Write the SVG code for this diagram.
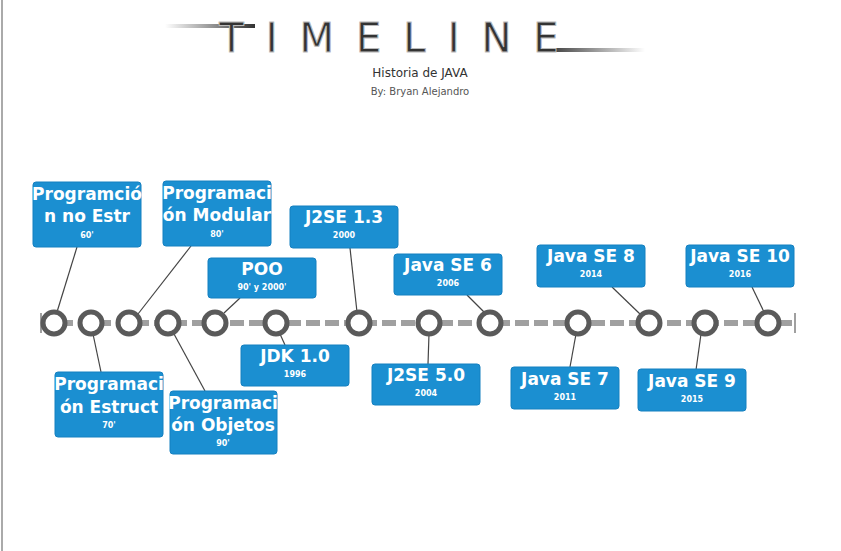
<svg xmlns="http://www.w3.org/2000/svg" width="841" height="551" viewBox="0 0 841 551">
<defs>
<linearGradient id="gl" x1="0" x2="1"><stop offset="0" stop-color="#333" stop-opacity="0"/><stop offset="1" stop-color="#333"/></linearGradient>
<linearGradient id="gr" x1="0" x2="1"><stop offset="0" stop-color="#333"/><stop offset="1" stop-color="#333" stop-opacity="0"/></linearGradient>
</defs>
<style>
.b{fill:#1b8fd1;stroke:#1580c0;stroke-width:1}
.t{font-family:"DejaVu Sans",sans-serif;font-weight:bold;fill:#fff;text-anchor:middle;font-size:17px}
.s{font-family:"DejaVu Sans",sans-serif;font-weight:bold;fill:#fff;text-anchor:middle;font-size:8px}
.c{fill:#fff;stroke:#5a5a5a;stroke-width:5}
.l{stroke:#444;stroke-width:1.2}
</style>
<rect width="841" height="551" fill="#fff"/>
<line x1="2" y1="0" x2="2" y2="551" stroke="#aaa" stroke-width="2"/>
<rect x="165" y="24" width="90" height="4" fill="url(#gl)"/>
<rect x="545" y="48" width="100" height="4" fill="url(#gr)"/>
<text x="400" y="52" font-family="DejaVu Sans,sans-serif" font-size="40" fill="#333" stroke="#bbb" stroke-width="1" text-anchor="middle" letter-spacing="22">TIMELINE</text>
<text x="420" y="77" font-family="DejaVu Sans,sans-serif" font-size="12" fill="#333" text-anchor="middle">Historia de JAVA</text>
<text x="420" y="95" font-family="DejaVu Sans,sans-serif" font-size="10" fill="#555" text-anchor="middle">By: Bryan Alejandro</text>
<g id="connectors">
<line x1="40" y1="323" x2="792" y2="323" stroke="#a0a0a0" stroke-width="6" stroke-dasharray="14 5"/>
<line x1="41" y1="313" x2="41" y2="333" stroke="#a0a0a0" stroke-width="2"/>
<line x1="795" y1="313" x2="795" y2="333" stroke="#a0a0a0" stroke-width="2"/>
<line class="l" x1="77" y1="247" x2="57" y2="312"/>
<line class="l" x1="93" y1="334" x2="101" y2="372"/>
<line class="l" x1="191" y1="246" x2="138" y2="314"/>
<line class="l" x1="174" y1="334" x2="205" y2="391"/>
<line class="l" x1="240" y1="298" x2="224" y2="313"/>
<line class="l" x1="280" y1="334" x2="285" y2="345"/>
<line class="l" x1="350" y1="248" x2="357" y2="312"/>
<line class="l" x1="429" y1="334" x2="428" y2="364"/>
<line class="l" x1="467" y1="295" x2="485" y2="313"/>
<line class="l" x1="576" y1="334" x2="570" y2="367"/>
<line class="l" x1="612" y1="287" x2="640" y2="314"/>
<line class="l" x1="701" y1="334" x2="696" y2="370"/>
<line class="l" x1="752" y1="287" x2="764" y2="312"/>
</g>
<g id="circles">
<circle class="c" cx="54" cy="323" r="11"/><circle class="c" cx="91" cy="323" r="11"/><circle class="c" cx="129" cy="323" r="11"/><circle class="c" cx="168" cy="323" r="11"/><circle class="c" cx="215" cy="323" r="11"/><circle class="c" cx="276" cy="323" r="11"/><circle class="c" cx="359" cy="323" r="11"/><circle class="c" cx="429" cy="323" r="11"/><circle class="c" cx="490" cy="323" r="11"/><circle class="c" cx="578" cy="323" r="11"/><circle class="c" cx="649" cy="323" r="11"/><circle class="c" cx="705" cy="323" r="11"/><circle class="c" cx="768" cy="323" r="11"/>
</g>
<g id="n1"><rect class="b" x="33" y="182" width="108" height="65" rx="3"/><text class="t" x="87" y="200">Programció</text><text class="t" x="87" y="222">n no Estr</text><text class="s" x="87" y="238">60'</text></g>
<g id="n2"><rect class="b" x="55" y="372" width="108" height="65" rx="3"/><text class="t" x="109" y="390">Programaci</text><text class="t" x="109" y="413">ón Estruct</text><text class="s" x="109" y="428">70'</text></g>
<g id="n3"><rect class="b" x="163" y="181" width="108" height="65" rx="3"/><text class="t" x="217" y="199">Programaci</text><text class="t" x="217" y="221">ón Modular</text><text class="s" x="217" y="237">80'</text></g>
<g id="n4"><rect class="b" x="170" y="391" width="107" height="63" rx="3"/><text class="t" x="223" y="409">Programaci</text><text class="t" x="223" y="431">ón Objetos</text><text class="s" x="223" y="446">90'</text></g>
<g id="n5"><rect class="b" x="208" y="258" width="108" height="40" rx="3"/><text class="t" x="262" y="275">POO</text><text class="s" x="262" y="290">90' y 2000'</text></g>
<g id="n6"><rect class="b" x="241" y="345" width="108" height="41" rx="3"/><text class="t" x="295" y="362">JDK 1.0</text><text class="s" x="295" y="377">1996</text></g>
<g id="n7"><rect class="b" x="290" y="206" width="108" height="42" rx="3"/><text class="t" x="344" y="223">J2SE 1.3</text><text class="s" x="344" y="238">2000</text></g>
<g id="n8"><rect class="b" x="372" y="364" width="108" height="41" rx="3"/><text class="t" x="426" y="381">J2SE 5.0</text><text class="s" x="426" y="396">2004</text></g>
<g id="n9"><rect class="b" x="394" y="254" width="108" height="41" rx="3"/><text class="t" x="448" y="271">Java SE 6</text><text class="s" x="448" y="286">2006</text></g>
<g id="n10"><rect class="b" x="511" y="367" width="108" height="42" rx="3"/><text class="t" x="565" y="385">Java SE 7</text><text class="s" x="565" y="400">2011</text></g>
<g id="n11"><rect class="b" x="537" y="245" width="108" height="42" rx="3"/><text class="t" x="591" y="262">Java SE 8</text><text class="s" x="591" y="277">2014</text></g>
<g id="n12"><rect class="b" x="638" y="369" width="108" height="42" rx="3"/><text class="t" x="692" y="387">Java SE 9</text><text class="s" x="692" y="402">2015</text></g>
<g id="n13"><rect class="b" x="686" y="245" width="108" height="42" rx="3"/><text class="t" x="740" y="262">Java SE 10</text><text class="s" x="740" y="277">2016</text></g>
</svg>
